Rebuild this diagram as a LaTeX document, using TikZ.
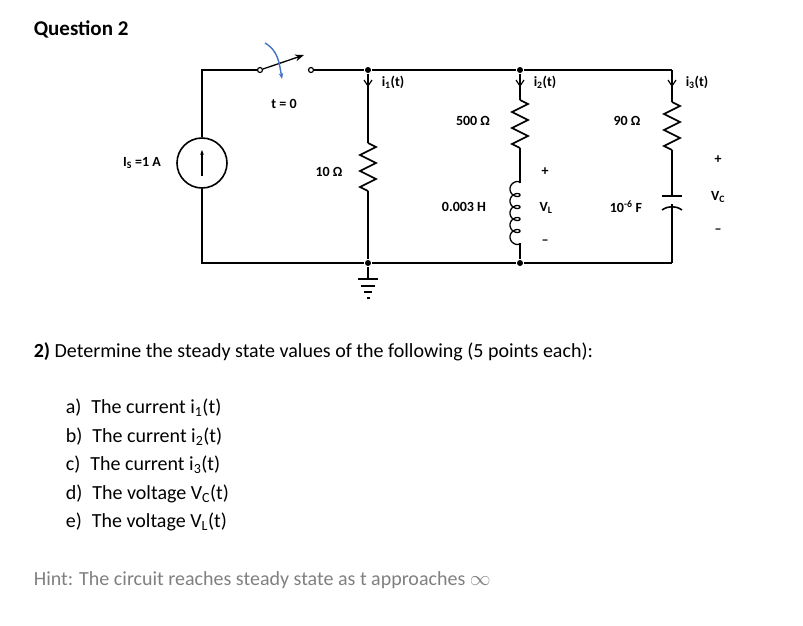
\documentclass[tikz,border=0pt]{standalone}
\usepackage{fontspec}
\setmainfont{Carlito}
\usetikzlibrary{arrows.meta}
\begin{document}
\begin{tikzpicture}[x=1pt,y=-1pt,line width=1.6pt,
  lbl/.style={font=\bfseries\fontsize{14}{16}\selectfont,inner sep=0pt},
  body/.style={font=\fontsize{20}{24}\selectfont,anchor=west,inner sep=0pt},
  dot/.style={circle,fill,inner sep=0pt,minimum size=6pt},
  open/.style={circle,draw,fill=white,line width=1.2pt,inner sep=0pt,minimum size=5pt}]
\useasboundingbox (0,0) rectangle (803,625);
\def\res#1#2{\draw (#1,#2) -- ++(8,4) -- ++(-16,8) -- ++(16,8) -- ++(-16,8) -- ++(16,8) -- ++(-16,8) -- ++(8,4);}
\def\chev#1#2{\draw[line width=1.2pt] (#1-4,#2-6) -- (#1,#2) -- (#1+4,#2-6);}
% nodes
\node[dot] (j1) at (368,70) {};
\node[dot] (j2) at (520,70) {};
\node[dot] (j3) at (368,263) {};
\node[dot] (j4) at (520,263) {};
\node[open] (s1) at (260,70) {};
\node[open] (s2) at (311,70) {};
\node[circle,draw,minimum size=50pt,inner sep=0pt] (src) at (202,163) {};
\coordinate (tl) at (202,70); \coordinate (bl) at (202,263);
\coordinate (tr) at (672,70); \coordinate (br) at (672,263);
% wires
\draw (src) -- (tl) -- (s1);
\draw (src) -- (bl) -- (j3) -- (j4) -- (br);
\draw (s2) -- (j1) -- (j2) -- (tr);
\draw[-{Stealth[length=5pt]},line width=1.2pt] (202,176) -- (202,150);
% switch
\draw[-{Stealth[length=9pt]},line width=1.3pt] (s1) -- (304,55);
\draw[-{Stealth[length=6pt]},color={rgb,255:red,68;green,114;blue,196},line width=1.4pt] (265,43) to[out=-30,in=100] (282,79);
% branch 1
\draw (j1) -- (368,143); \res{368}{143} \draw (368,191) -- (j3);
\chev{368}{86}
\draw (j3) -- (368,279);
\draw (358,279)--(378,279); \draw (361,286)--(375,286); \draw (364,292)--(372,292); \draw (366.5,298)--(369.5,298);
% branch 2
\draw (j2) -- (520,100); \res{520}{100} \draw (520,148) -- (520,183);
\draw[line width=1.3pt] plot[domain=0:1800,samples=200,smooth] ({520-5*(1-cos(\x))},{183+\x/30-4*sin(\x)});
\draw (520,243) -- (j4);
\chev{520}{86}
% branch 3
\draw (tr) -- (672,102); \res{672}{102} \draw (672,150) -- (672,196);
\draw (662,196) -- (682,196);
\draw (662,210) to[out=35,in=145] (682,210);
\draw (672,204) -- (br);
\chev{672}{86}
% labels
\node[lbl] at (393,82) {i\textsubscript{1}(t)};
\node[lbl] at (545,82) {i\textsubscript{2}(t)};
\node[lbl] at (697,82) {i\textsubscript{3}(t)};
\node[lbl] at (284,104) {t = 0};
\node[lbl] at (473,121) {500 Ω};
\node[lbl] at (627,121) {90 Ω};
\node[lbl] at (329,172) {10 Ω};
\node[lbl] at (464,207) {0.003 H};
\node[lbl] at (626,207) {10\textsuperscript{-6} F};
\node[lbl] at (142,163) {I\textsubscript{S} =1 A};
\node[lbl] at (545,172) {+};
\node[lbl] at (546,208) {V\textsubscript{L}};
\node[lbl] at (545,242) {--};
\node[lbl] at (718,160) {+};
\node[lbl] at (718,197) {V\textsubscript{C}};
\node[lbl] at (718,231) {--};
% text
\node[body,font=\bfseries\fontsize{21}{24}\selectfont] at (33,29) {Question 2};
\node[body] at (33,352) {\textbf{2)} Determine the steady state values of the following (5 points each):};
\node[body] at (65,408) {a)\enspace The current i\textsubscript{1}(t)};
\node[body] at (65,437) {b)\enspace The current i\textsubscript{2}(t)};
\node[body] at (65,465) {c)\enspace The current i\textsubscript{3}(t)};
\node[body] at (65,494) {d)\enspace The voltage V\textsubscript{C}(t)};
\node[body] at (65,522) {e)\enspace The voltage V\textsubscript{L}(t)};
\node[body,text={rgb,255:red,128;green,128;blue,128}] at (33,580) {Hint: The circuit reaches steady state as t approaches $\infty$};
\end{tikzpicture}
\end{document}
